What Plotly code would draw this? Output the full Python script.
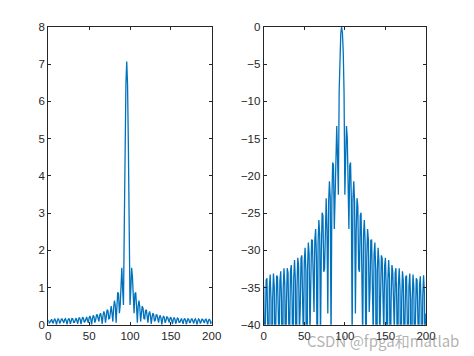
import plotly.graph_objects as go

# sample index (frequency bin)
x_bins = list(range(0, 201))

# magnitude spectrum (left panel)
mag = [
    0.130, 0.044, 0.065, 0.141, 0.145, 0.075, 0.034, 0.125, 0.154, 0.104,
    0.003, 0.104, 0.156, 0.128, 0.035, 0.078, 0.151, 0.148, 0.069, 0.047,
    0.139, 0.162, 0.101, 0.012, 0.121, 0.169, 0.131, 0.025, 0.096, 0.169,
    0.157, 0.064, 0.064, 0.162, 0.178, 0.103, 0.027, 0.146, 0.192, 0.140,
    0.014, 0.122, 0.199, 0.175, 0.060, 0.090, 0.198, 0.207, 0.109, 0.049,
    0.187, 0.233, 0.159, 0.003, 0.165, 0.252, 0.210, 0.058, 0.132, 0.262,
    0.261, 0.123, 0.086, 0.262, 0.310, 0.198, 0.024, 0.249, 0.357, 0.284,
    0.056, 0.219, 0.400, 0.382, 0.160, 0.168, 0.437, 0.500, 0.301, 0.084,
    0.470, 0.650, 0.502, 0.055, 0.496, 0.869, 0.829, 0.311, 0.514, 1.274,
    1.528, 0.947, 0.528, 2.624, 4.810, 6.454, 7.070, 6.454, 4.810, 2.624,
    0.528, 0.947, 1.528, 1.274, 0.514, 0.311, 0.829, 0.869, 0.496, 0.055,
    0.502, 0.650, 0.470, 0.084, 0.301, 0.500, 0.437, 0.168, 0.160, 0.382,
    0.400, 0.219, 0.056, 0.284, 0.357, 0.249, 0.024, 0.198, 0.310, 0.262,
    0.086, 0.123, 0.261, 0.262, 0.132, 0.058, 0.210, 0.252, 0.165, 0.003,
    0.159, 0.233, 0.187, 0.049, 0.109, 0.207, 0.198, 0.090, 0.060, 0.175,
    0.199, 0.122, 0.014, 0.140, 0.192, 0.146, 0.027, 0.103, 0.178, 0.162,
    0.064, 0.064, 0.157, 0.169, 0.096, 0.025, 0.131, 0.169, 0.121, 0.012,
    0.101, 0.162, 0.139, 0.047, 0.069, 0.148, 0.151, 0.078, 0.035, 0.128,
    0.156, 0.104, 0.003, 0.104, 0.154, 0.125, 0.034, 0.075, 0.145, 0.141,
    0.065, 0.044, 0.130, 0.150, 0.093, 0.011, 0.109, 0.152, 0.117, 0.022, 0.084,
]

# normalised spectrum in dB (right panel)
mag_db = [
    -34.72, -44.13, -40.76, -34.02, -33.76, -39.48, -46.48, -35.02, -33.25, -36.69,
    -67.0, -36.63, -33.13, -34.84, -46.23, -39.17, -33.40, -33.59, -40.27, -43.58,
    -34.10, -32.82, -36.89, -55.28, -35.33, -32.43, -34.63, -48.99, -37.36, -32.41,
    -33.07, -40.92, -40.83, -32.81, -31.98, -36.77, -48.22, -33.69, -31.32, -34.05,
    -53.82, -35.25, -31.01, -32.11, -41.42, -37.93, -31.06, -30.68, -36.27, -43.14,
    -31.56, -29.66, -32.96, -67.0, -32.62, -28.97, -30.54, -41.78, -34.56, -28.62,
    -28.65, -35.17, -38.30, -28.63, -27.16, -31.04, -49.22, -29.07, -25.95, -27.92,
    -42.04, -30.17, -24.95, -25.34, -32.90, -32.51, -24.17, -23.00, -27.43, -38.49,
    -23.55, -20.73, -22.98, -42.22, -23.09, -18.21, -18.62, -27.14, -22.76, -14.88,
    -13.31, -17.46, -22.54, -8.61, -3.34, -0.80, 0.0, -0.80, -3.34, -8.61,
    -22.54, -17.46, -13.31, -14.88, -22.76, -27.14, -18.62, -18.21, -23.09, -42.22,
    -22.98, -20.73, -23.55, -38.49, -27.43, -23.00, -24.17, -32.51, -32.90, -25.34,
    -24.95, -30.17, -42.04, -27.92, -25.95, -29.07, -49.22, -31.04, -27.16, -28.63,
    -38.30, -35.17, -28.65, -28.62, -34.56, -41.78, -30.54, -28.97, -32.62, -67.0,
    -32.96, -29.66, -31.56, -43.14, -36.27, -30.68, -31.06, -37.93, -41.42, -32.11,
    -31.01, -35.25, -53.82, -34.05, -31.32, -33.69, -48.22, -36.77, -31.98, -32.81,
    -40.83, -40.92, -33.07, -32.41, -37.36, -48.99, -34.63, -32.43, -35.33, -55.28,
    -36.89, -32.82, -34.10, -43.58, -40.27, -33.59, -33.40, -39.17, -46.23, -34.84,
    -33.13, -36.63, -67.0, -36.69, -33.25, -35.02, -46.48, -39.48, -33.76, -34.02,
    -40.76, -44.13, -34.72, -33.49, -37.63, -56.08, -36.20, -33.36, -35.63, -50.05, -38.50,
]

x_ticks = [0, 50, 100, 150, 200]
y1_ticks = [0, 1, 2, 3, 4, 5, 6, 7, 8]
y2_ticks = [0, -5, -10, -15, -20, -25, -30, -35, -40]

LINE = "#0072BD"
AX = "#262626"
FONT = "Liberation Sans, Arial, sans-serif"

# the page body adds an 8px margin, so the figure is 16px smaller
W, H = 466, 348
OFF = 8

fig = go.Figure()
fig.add_trace(go.Scatter(x=x_bins, y=mag, mode="lines",
                         line=dict(color=LINE, width=1.3), xaxis="x", yaxis="y",
                         showlegend=False, hoverinfo="skip"))
fig.add_trace(go.Scatter(x=x_bins, y=mag_db, mode="lines",
                         line=dict(color=LINE, width=1.3), xaxis="x2", yaxis="y2",
                         showlegend=False, hoverinfo="skip"))

ax_common = dict(showline=True, linecolor=AX, linewidth=1, mirror="ticks",
                 ticks="inside", ticklen=3, tickwidth=1, tickcolor=AX,
                 showgrid=False, zeroline=False, automargin=False,
                 tickfont=dict(family=FONT, size=11.5, color=AX))

ydom = [1 - (324.7 - OFF) / H, 1 - (27 - OFF) / H]
fig.update_layout(
    template="none",
    width=W, height=H,
    margin=dict(l=0, r=0, t=0, b=0, pad=0),
    paper_bgcolor="white", plot_bgcolor="white",
    xaxis=dict(domain=[(48.3 - OFF) / W, (211.7 - OFF) / W], range=[0, 200],
               tickvals=x_ticks, anchor="y", **ax_common),
    yaxis=dict(domain=ydom, range=[0, 8], tickvals=y1_ticks, anchor="x",
               **ax_common),
    xaxis2=dict(domain=[(263.7 - OFF) / W, (426 - OFF) / W], range=[0, 200],
                tickvals=x_ticks, anchor="y2", **ax_common),
    yaxis2=dict(domain=ydom, range=[-40, 0], tickvals=y2_ticks, anchor="x2",
                **ax_common),
    annotations=[dict(text="CSDN @fpga和matlab", x=(383 - OFF) / W,
                      y=1 - (340 - OFF) / H,
                      xref="paper", yref="paper", showarrow=False,
                      xanchor="center", yanchor="middle",
                      font=dict(family="Noto Sans CJK SC, Noto Sans, sans-serif",
                                size=15, color="rgba(100,100,100,0.5)"))],
)

fig.write_html("out.html")
